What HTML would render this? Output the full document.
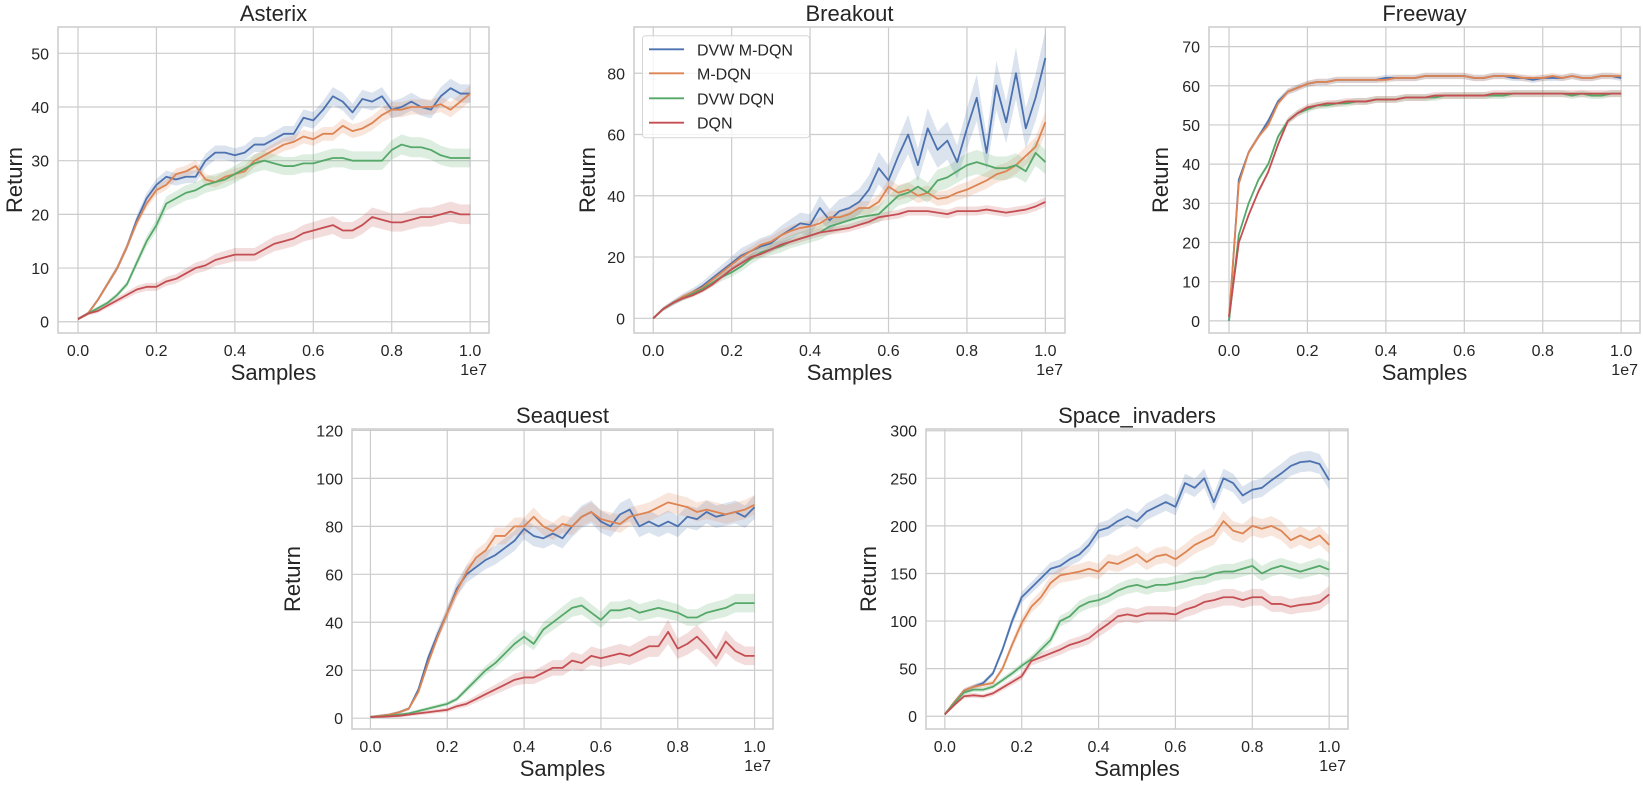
<!DOCTYPE html>
<html><head><meta charset="utf-8"><style>
body{margin:0;background:#fff;}
svg text{font-family:"Liberation Sans","DejaVu Sans",sans-serif;fill:#262626;}
</style></head><body>
<svg id="fig" width="1643" height="782" viewBox="0 0 1643 782" xmlns="http://www.w3.org/2000/svg"></svg>
<script>
const seriesNames = ["DVW M-DQN","M-DQN","DVW DQN","DQN"];
const colors = ["#4c72b0","#dd8452","#55a868","#c44e52"];
const xTicks = [0,0.2,0.4,0.6,0.8,1.0];
const xTickLabels = ["0.0","0.2","0.4","0.6","0.8","1.0"];

const asterixBlue = [0.5,1.5,4,7,10,14,19,23,25.5,27,26.5,27,27,30,31.5,31.5,31,31.5,33,33,34,35,35,38,37.5,39.5,42,41,39,41.5,41,42,39.5,40,41,40,39.5,42,43.5,42.5,42.5];
const asterixOrange = [0.5,1.5,4,7,10,14,18.5,22,24.5,25.5,27.5,28,29,26.5,26,27,27.5,28,30,31,32,33,33.5,34.5,34,35,35,36.5,35.5,36,37,38.5,39.5,39.5,40,40,40,40.5,39.5,41,42.5];
const asterixGreen = [0.5,1.5,2.5,3.5,5,7,11,15,18,22,23,24,24.5,25.5,26,26.5,27.5,28.5,29.5,30,29.5,29,29,29.5,29.5,30,30.5,30.5,30,30,30,30,32,33,32.5,32.5,32,31,30.5,30.5,30.5];
const asterixRed = [0.5,1.5,2,3,4,5,6,6.5,6.5,7.5,8,9,10,10.5,11.5,12,12.5,12.5,12.5,13.5,14.5,15,15.5,16.5,17,17.5,18,17,17,18,19.5,19,18.5,18.5,19,19.5,19.5,20,20.5,20,20];
const asterixBand = [0.035,0.03,0.05,0.08];
const asterixYTicks = [0,10,20,30,40,50];

const breakoutBlue = [0,3,5,7,8.5,10.5,13,15.5,18,20.5,22,23.5,24.5,27,29,31,30.5,36,32,35,36,38,42,49,45,53,60,50,62,55,58,51,62,72,54,76,64,80,62,72,85];
const breakoutOrange = [0,3,5,7,8.5,10,12.5,15,17.5,20,22,24,25,27,28.5,29.5,30,31,33,33,34,36,36,38,43,41,42,40,41,39,39.5,41,42,43.5,45,47,48,50,53,56,64];
const breakoutGreen = [0,3,5,6.5,8,9.5,11.5,13.5,15,17,19.5,21.5,22.5,23.5,25,26,27,28,30,31,32,33,33.5,34,37,40,41,43,41,45,46,48,50,51,50,49,49,50,48,54,51];
const breakoutRed = [0,3,5,6.5,7.5,9,11,13.5,16,18,20,21,22.5,24,25,26,27,28,28.5,29,29.5,30.5,31.5,33,33.5,34,35,35,35,34.5,34,35,35,35,35.5,35,34.5,35,35.5,36.5,38];
const breakoutBand = [0.1,0.05,0.07,0.03];
const breakoutYTicks = [0,20,40,60,80];

const freewayBlue = [0,36,43,47,51,56,58.5,59.5,60.5,61,61,61.5,61.5,61.5,61.5,61.5,62,62,62,62,62.5,62.5,62.5,62.5,62.5,62,62,62.5,62.5,62,62,61.5,62,62,62,62.5,62,62,62.5,62.5,62];
const freewayOrange = [1,35,43,47,50,55.5,58.5,59.5,60.5,61,61,61.5,61.5,61.5,61.5,61.5,61.5,62,62,62,62.5,62.5,62.5,62.5,62.5,62,62,62.5,62.5,62.5,62,62,62,62.5,62,62.5,62,62,62.5,62.5,62.5];
const freewayGreen = [0,22,30,36,40,47,51,53,54,55,55,55.5,55.5,56,56,56.5,56.5,56.5,57,57,57,57,57.5,57.5,57.5,57.5,57.5,57.5,57.5,58,58,58,58,58,58,57.5,58,57.5,57.5,58,58];
const freewayRed = [1,20,27,33,38,45,51,53,54.5,55,55.5,55.5,56,56,56,56.5,56.5,56.5,57,57,57,57.5,57.5,57.5,57.5,57.5,57.5,58,58,58,58,58,58,58,58,58,58,58,58,58,58];
const freewayBand = [0.008,0.008,0.01,0.01];
const freewayYTicks = [0,10,20,30,40,50,60,70];

const seaquestBlue = [0.5,1,1.5,2.5,4,12,25,35,44,54,60,63,66,68,71,74,79,76,75,77,75,80,84,86,82,80,85,87,80,82,80,82,80,84,83,86,84,85,86,84,88];
const seaquestOrange = [0.5,1,1.5,2.5,4,11,23,34,44,53,61,67,70,76,76,80,80,84,80,78,81,80,84,86,83,82,81,84,85,86,88,90,89,88,86,87,86,85,86,87,89];
const seaquestGreen = [0.5,0.7,1,1.5,2,3,4,5,6,8,12,16,20,23,27,31,34,31,37,40,43,46,47,44,41,45,45,46,44,45,46,45,44,42,42,44,45,46,48,48,48];
const seaquestRed = [0.5,0.6,0.8,1,1.5,2,2.5,3,3.5,5,6,8,10,12,14,16,17,17,19,21,21,24,23,26,25,26,27,26,28,30,30,36,29,31,34,30,25,32,28,26,26];
const seaquestBand = [0.05,0.04,0.07,0.13];
const seaquestYTicks = [0,20,40,60,80,100,120];

const spaceBlue = [2,15,27,31,35,45,70,100,125,135,145,155,158,165,170,180,195,198,205,210,205,215,220,225,220,245,240,250,225,250,245,232,238,240,248,255,263,267,268,265,248];
const spaceOrange = [2,15,27,31,33,35,50,75,98,115,125,140,148,150,152,155,152,162,160,165,170,162,168,170,165,172,180,185,190,205,195,192,200,197,200,195,185,190,185,190,180];
const spaceGreen = [2,14,25,28,28,31,38,45,53,60,70,80,100,105,115,120,122,126,132,136,138,135,138,138,140,142,145,146,150,152,152,155,158,150,155,158,155,152,155,158,154];
const spaceRed = [2,12,21,22,21,24,30,36,42,58,62,66,70,75,78,82,90,97,105,107,105,108,108,108,107,112,115,120,122,125,125,122,125,125,118,118,115,117,118,120,128];
const spaceBand = [0.035,0.045,0.045,0.06];
const spaceYTicks = [0,50,100,150,200,250,300];

const NS="http://www.w3.org/2000/svg";
const svg=document.getElementById('fig');
function mk(tag,attrs,parent){const e=document.createElementNS(NS,tag);for(const k in attrs)e.setAttribute(k,attrs[k]);(parent||svg).appendChild(e);return e;}

const panels=[
 {name:"asterix",title:"Asterix",data:[asterixBlue,asterixOrange,asterixGreen,asterixRed],band:asterixBand,yt:asterixYTicks,
  L:58,R:489,T:27,B:333,xmin:-0.051,xmax:1.048,ymin:-2.1,ymax:54.9,ylabX:14,legend:false},
 {name:"breakout",title:"Breakout",data:[breakoutBlue,breakoutOrange,breakoutGreen,breakoutRed],band:breakoutBand,yt:breakoutYTicks,
  L:634,R:1065,T:27,B:333,xmin:-0.049,xmax:1.05,ymin:-4.8,ymax:95.1,ylabX:587,legend:true},
 {name:"freeway",title:"Freeway",data:[freewayBlue,freewayOrange,freewayGreen,freewayRed],band:freewayBand,yt:freewayYTicks,
  L:1209,R:1640,T:27,B:333,xmin:-0.051,xmax:1.048,ymin:-3.1,ymax:75,ylabX:1160,legend:false},
 {name:"seaquest",title:"Seaquest",data:[seaquestBlue,seaquestOrange,seaquestGreen,seaquestRed],band:seaquestBand,yt:seaquestYTicks,
  L:352,R:773,T:429,B:729,xmin:-0.048,xmax:1.048,ymin:-4.5,ymax:120.6,ylabX:292,legend:false},
 {name:"space-invaders",title:"Space_invaders",data:[spaceBlue,spaceOrange,spaceGreen,spaceRed],band:spaceBand,yt:spaceYTicks,
  L:926,R:1348,T:429,B:729,xmin:-0.049,xmax:1.049,ymin:-13.4,ymax:301.8,ylabX:868,legend:false}
];

panels.forEach(p=>{
  const g=mk('g',{});
  
  
  const X=v=>p.L+(v-p.xmin)/(p.xmax-p.xmin)*(p.R-p.L);
  const Y=v=>p.B-(v-p.ymin)/(p.ymax-p.ymin)*(p.B-p.T);
  const cx=(p.L+p.R)/2;
  const minBand=(p.ymax-p.ymin)*0.004;
  xTicks.forEach((t,i)=>{
    const l=mk('line',{x1:X(t),x2:X(t),y1:p.T,y2:p.B,stroke:"#cccccc","stroke-width":1.2},g);
    
    
    const tx=mk('text',{x:X(t),y:p.B+23,"font-size":16,"text-anchor":"middle"},g);
    tx.textContent=xTickLabels[i];
    
    
  });
  p.yt.forEach(t=>{
    const l=mk('line',{x1:p.L,x2:p.R,y1:Y(t),y2:Y(t),stroke:"#cccccc","stroke-width":1.2},g);
    
    
    const tx=mk('text',{x:p.L-9,y:Y(t)+6,"font-size":16,"text-anchor":"end"},g);
    tx.textContent=String(t);
    
    
  });
  const frame=mk('rect',{x:p.L,y:p.T,width:p.R-p.L,height:p.B-p.T,fill:"none",stroke:"#cccccc","stroke-width":1.5},g);
  
  
  p.data.forEach((arr,si)=>{
    const n=arr.length;
    const hw=arr.map(v=>p.band[si]*Math.abs(v)+minBand);
    let up=arr.map((v,i)=>X(i/(n-1))+','+Y(v+hw[i])).join(' ');
    let dn=arr.map((v,i)=>X(i/(n-1))+','+Y(v-hw[i])).reverse().join(' ');
    const band=mk('polygon',{points:up+' '+dn,fill:colors[si],"fill-opacity":0.2,stroke:"none"},g);
    
    
  });
  p.data.forEach((arr,si)=>{
    const n=arr.length;
    const pts=arr.map((v,i)=>X(i/(n-1))+','+Y(v)).join(' ');
    const line=mk('polyline',{points:pts,fill:"none",stroke:colors[si],"stroke-width":1.8,"stroke-linejoin":"round"},g);
    
    
  });
  const title=mk('text',{x:cx,y:p.T-6,"font-size":22,"text-anchor":"middle"},g);
  title.textContent=p.title;
  
  
  const xl=mk('text',{x:cx,y:p.B+47,"font-size":22,"text-anchor":"middle"},g);
  xl.textContent="Samples";
  
  
  const ex=mk('text',{x:p.R-2,y:p.B+42,"font-size":16,"text-anchor":"end"},g);
  ex.textContent="1e7";
  
  
  const ymid=(p.T+p.B)/2;
  const yl=mk('text',{x:p.ylabX+8,y:ymid,"font-size":22,"text-anchor":"middle",transform:`rotate(-90 ${p.ylabX+8} ${ymid})`},g);
  yl.textContent="Return";
  
  
  if(p.legend){
    const lg=mk('g',{},g);
    
    
    mk('rect',{x:642.5,y:35.7,width:167,height:102,rx:3,fill:"#fff","fill-opacity":0.8,stroke:"#d6d6d6","stroke-width":1},lg);
    const ys=[49.3,73.3,98.3,122.7];
    seriesNames.forEach((nm,i)=>{
      const e=mk('g',{},lg);
      
      
      mk('line',{x1:649,x2:684,y1:ys[i],y2:ys[i],stroke:colors[i],"stroke-width":1.8},e);
      const t=mk('text',{x:697,y:ys[i]+6,"font-size":16},e);
      t.textContent=nm;
    });
  }
});
</script>
</body></html>
